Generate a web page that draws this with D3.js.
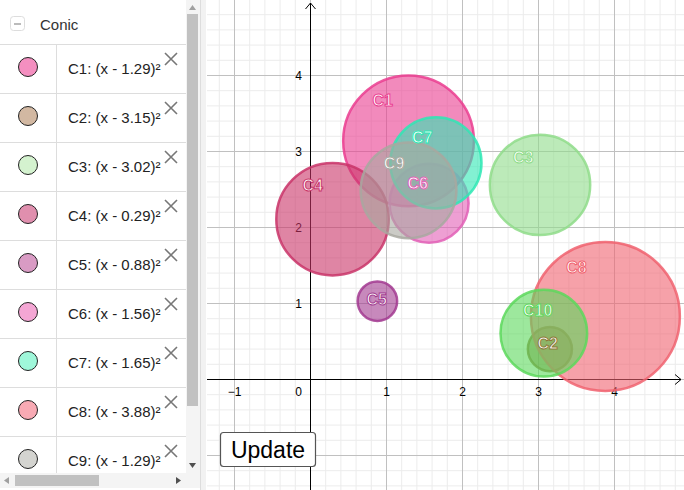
<!DOCTYPE html>
<html><head><meta charset="utf-8">
<script src="https://cdn.jsdelivr.net/npm/d3@7"></script>
<style>body{margin:0;overflow:hidden;background:#fff;font-family:"Liberation Sans",Arial,sans-serif}</style>
</head><body><svg id="c" width="684" height="490"></svg>
<script>
// circle data (graph units)
var names = ["C1","C2","C3","C4","C5","C6","C7","C8","C9","C10"];
var cx = [1.29, 3.15, 3.02, 0.29, 0.88, 1.56, 1.65, 3.88, 1.29, 3.07];
var cy = [3.14, 0.40, 2.56, 2.11, 1.03, 2.32, 2.85, 0.83, 2.49, 0.61];
var rad = [0.86, 0.29, 0.66, 0.74, 0.26, 0.52, 0.60, 0.98, 0.63, 0.57];
var colors = ["#ea3c8f","#8c7a3a","#8fdc8a","#c93468","#a23a90","#e25fb6","#2ee8b4","#f0626f","#a8a8a0","#5cd85c"];
var iconColors = ["#f48fc0","#d2b8a2","#d4f2cf","#e08fae","#d99bc4","#f4a6d4","#9ff7da","#f8aab4","#d4d4d0"];
var labX = [0.95, 3.12, 2.80, 0.03, 0.87, 1.41, 1.47, 3.50, 1.10, 2.99];
var labY = [3.68, 0.48, 2.93, 2.56, 1.06, 2.58, 3.19, 1.48, 2.85, 0.91];
var xTicks = [-1, 0, 1, 2, 3, 4];
var yTicks = [1, 2, 3, 4];

var svg = d3.select("#c");
var x = d3.scaleLinear().domain([0, 1]).range([310.5, 386.5]);
var y = d3.scaleLinear().domain([0, 1]).range([379.5, 303.5]);
var u = 76;

// graphics area
var g = svg.append("g");
var clip = svg.append("clipPath").attr("id", "gc").append("rect")
  .attr("x", 207).attr("y", 0).attr("width", 477).attr("height", 490);
var gg = g.append("g").attr("clip-path", "url(#gc)");
var minor = d3.range(-1.6, 5, 0.2);
gg.selectAll(".vx").data(minor).enter().append("line")
  .attr("x1", d => x(d)).attr("x2", d => x(d)).attr("y1", 0).attr("y2", 490)
  .attr("stroke", "#ececec").attr("stroke-width", 1);
gg.selectAll(".hy").data(d3.range(-1.6, 5.2, 0.2)).enter().append("line")
  .attr("y1", d => y(d)).attr("y2", d => y(d)).attr("x1", 207).attr("x2", 684)
  .attr("stroke", "#ececec");
gg.selectAll(".vX").data(d3.range(-1, 6)).enter().append("line")
  .attr("x1", d => x(d)).attr("x2", d => x(d)).attr("y1", 0).attr("y2", 490)
  .attr("stroke", "#c0c0c0");
gg.selectAll(".hY").data(d3.range(-1, 6)).enter().append("line")
  .attr("y1", d => y(d)).attr("y2", d => y(d)).attr("x1", 207).attr("x2", 684)
  .attr("stroke", "#c0c0c0");
// axes
gg.append("line").attr("x1", 207).attr("x2", 681).attr("y1", y(0)).attr("y2", y(0)).attr("stroke", "#000");
gg.append("line").attr("x1", x(0)).attr("x2", x(0)).attr("y1", 3).attr("y2", 490).attr("stroke", "#000");
gg.append("path").attr("d", "M675," + (y(0) - 5) + "L681," + y(0) + "L675," + (y(0) + 5)).attr("fill", "none").attr("stroke", "#000");
gg.append("path").attr("d", "M" + (x(0) - 5) + ",9L" + x(0) + ",3L" + (x(0) + 5) + ",9").attr("fill", "none").attr("stroke", "#000");
gg.selectAll(".xt").data(xTicks).enter().append("text")
  .attr("x", d => d === 0 ? x(d) - 12 : x(d)).attr("y", y(0) + 16)
  .attr("text-anchor", "middle").attr("font-size", 12).text(d => d < 0 ? "\u2212" + (-d) : d);
gg.selectAll(".yt").data(yTicks).enter().append("text")
  .attr("x", x(0) - 12).attr("y", d => y(d) + 4)
  .attr("text-anchor", "middle").attr("font-size", 12).text(d => d);

// circles
gg.selectAll(".circ").data(names).enter().append("circle")
  .attr("cx", (d, i) => x(cx[i])).attr("cy", (d, i) => y(cy[i])).attr("r", (d, i) => rad[i] * u)
  .attr("fill", (d, i) => colors[i]).attr("fill-opacity", 0.6)
  .attr("stroke", (d, i) => colors[i]).attr("stroke-width", 2.5).attr("stroke-opacity", 0.85);
gg.selectAll(".lab").data(names).enter().append("text")
  .attr("x", (d, i) => x(labX[i])).attr("y", (d, i) => y(labY[i]) + 6)
  .attr("text-anchor", "middle").attr("font-size", 16).attr("font-weight", "bold")
  .attr("fill", "#fff").attr("stroke", (d, i) => colors[i]).attr("stroke-width", 1)
  .text(d => d);

// update button
svg.append("rect").attr("x", 220.5).attr("y", 432.5).attr("width", 95).attr("height", 34).attr("rx", 3)
  .attr("fill", "#fff").attr("stroke", "#555").attr("stroke-width", 1.2);
svg.append("text").attr("x", 268).attr("y", 458).attr("text-anchor", "middle").attr("font-size", 23).text("Update");

// algebra panel
var p = svg.append("g");
p.append("rect").attr("x", 0).attr("y", 0).attr("width", 206).attr("height", 490).attr("fill", "#fff");
p.append("rect").attr("x", 200).attr("y", 0).attr("width", 6).attr("height", 490).attr("fill", "#f2f2f2");
p.append("line").attr("x1", 200.5).attr("x2", 200.5).attr("y1", 0).attr("y2", 490).attr("stroke", "#ddd");
p.append("rect").attr("x", 10.5).attr("y", 16.5).attr("width", 14).attr("height", 14).attr("rx", 3).attr("fill", "#fff").attr("stroke", "#ddd");
p.append("line").attr("x1", 14).attr("x2", 21).attr("y1", 24).attr("y2", 24).attr("stroke", "#bbb").attr("stroke-width", 2);
p.append("text").attr("x", 40).attr("y", 30).attr("font-size", 15).attr("fill", "#333").text("Conic");
var rowH = 49, top0 = 44;
var eqX = [1.29, 3.15, 3.02, 0.29, 0.88, 1.56, 1.65, 3.88, 1.29];
var rows = p.append("g").attr("clip-path", "url(#pc)");
svg.append("clipPath").attr("id", "pc").append("rect").attr("x", 0).attr("y", 0).attr("width", 186).attr("height", 473);
var row = rows.selectAll(".row").data(eqX).enter().append("g")
  .attr("transform", (d, i) => "translate(0," + (top0 + i * rowH) + ")");
row.append("line").attr("x1", 0).attr("x2", 186).attr("y1", 0.5).attr("y2", 0.5).attr("stroke", "#ddd");
row.append("line").attr("x1", 56.5).attr("x2", 56.5).attr("y1", 0).attr("y2", rowH).attr("stroke", "#ddd");
row.append("circle").attr("cx", 28).attr("cy", 23).attr("r", 9.5)
  .attr("fill", (d, i) => iconColors[i]).attr("stroke", "#222").attr("stroke-width", 1);
row.append("text").attr("x", 68).attr("y", 30).attr("font-size", 15).attr("fill", "#222")
  .text((d, i) => "C" + (i + 1) + ": (x - " + d.toFixed(2) + ")\u00b2");
row.append("path").attr("d", "M165,9L177,21M177,9L165,21").attr("stroke", "#777").attr("stroke-width", 1.6);
// scrollbars
p.append("rect").attr("x", 186).attr("y", 0).attr("width", 14).attr("height", 473).attr("fill", "#f4f4f4");
p.append("rect").attr("x", 187).attr("y", 14).attr("width", 11).attr("height", 392).attr("fill", "#c1c1c1");
p.append("path").attr("d", "M189,10L192.5,5L196,10Z").attr("fill", "#a0a0a0");
p.append("path").attr("d", "M189,463L192.5,468L196,463Z").attr("fill", "#505050");
p.append("rect").attr("x", 0).attr("y", 473).attr("width", 200).attr("height", 15).attr("fill", "#f4f4f4");
p.append("rect").attr("x", 15).attr("y", 475).attr("width", 84).attr("height", 11).attr("fill", "#c1c1c1");
p.append("path").attr("d", "M9,477L4,480.5L9,484Z").attr("fill", "#a0a0a0");
p.append("path").attr("d", "M176,477L181,480.5L176,484Z").attr("fill", "#505050");
</script></body></html>
